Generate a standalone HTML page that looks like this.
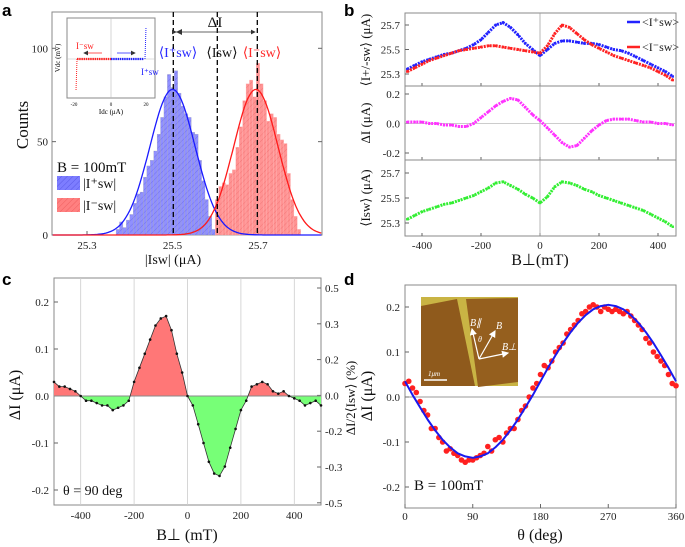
<!DOCTYPE html>
<html><head><meta charset="utf-8"><style>
html,body{margin:0;padding:0;background:#fff;}
svg{display:block;font-family:"Liberation Serif",serif;}
.pl{font-family:"Liberation Sans",sans-serif;font-weight:bold;font-size:17px;}
.tk{font-size:11px;fill:#222;}
.tt{font-size:16px;fill:#111;}
</style></head><body>
<svg id="fig" width="685" height="547" viewBox="0 0 685 547">
<defs>
<pattern id="hb" width="4" height="4" patternUnits="userSpaceOnUse" patternTransform="rotate(45)"><rect width="4" height="4" fill="#7d7dff"/><line x1="0" y1="0" x2="0" y2="4" stroke="#5a5ae8" stroke-width="1"/></pattern>
<pattern id="hr" width="4" height="4" patternUnits="userSpaceOnUse" patternTransform="rotate(45)"><rect width="4" height="4" fill="#ff8080"/><line x1="0" y1="0" x2="0" y2="4" stroke="#f06060" stroke-width="1"/></pattern>
<clipPath id="cpos"><rect x="53" y="270" width="270" height="126"/></clipPath>
<clipPath id="cneg"><rect x="53" y="396" width="270" height="120"/></clipPath>
<marker id="ah" markerWidth="6" markerHeight="6" refX="5" refY="3" orient="auto"><path d="M0,0L6,3L0,6z" fill="#333"/></marker>
<marker id="aw" markerWidth="6" markerHeight="6" refX="5" refY="3" orient="auto"><path d="M0,0L6,3L0,6z" fill="#fff"/></marker>
</defs>
<text class="pl" x="2" y="16">a</text>
<text class="pl" x="344" y="16">b</text>
<text class="pl" x="2" y="285">c</text>
<text class="pl" x="344" y="285">d</text>
<g id="ga"></g>
<g id="gb"></g>
<g id="gc"></g>
<g id="gd"></g>
</svg>
<script>
// ---------- data ----------
const blueBinStart = 25.368;
const redBinStart = 25.6;
const binWidth = [0.008];
const blueCounts = [3,7,4,8,11,17,22,23,31,37,40,45,54,63,74,86,79,88,76,69,65,63,55,54,40,29,19,10,3];
const redCounts = [19,26,28,27,33,35,47,58,72,81,83,74,92,81,72,61,65,63,54,51,49,33,19,10,3];
const fitMeans = [25.50, 25.695];
const fitPeaks = [78, 78];
const fitSigmas = [0.053, 0.052];
const histTicksX = [25.3, 25.5, 25.7];
const histTicksY = [0, 50, 100];

const bField = [-450,-425,-400,-375,-350,-325,-300,-275,-250,-225,-200,-175,-150,-125,-100,-75,-50,-25,0,25,50,75,100,125,150,175,200,225,250,275,300,325,350,375,400,425,450];
const iPlus = [25.34,25.37,25.40,25.42,25.44,25.46,25.47,25.49,25.51,25.54,25.58,25.64,25.70,25.72,25.68,25.62,25.55,25.50,25.45,25.50,25.55,25.57,25.57,25.56,25.55,25.55,25.54,25.52,25.50,25.49,25.47,25.44,25.41,25.38,25.35,25.32,25.28];
const iMinus = [25.32,25.35,25.38,25.41,25.43,25.45,25.47,25.49,25.50,25.51,25.52,25.53,25.53,25.52,25.51,25.50,25.49,25.48,25.47,25.53,25.63,25.70,25.68,25.63,25.58,25.54,25.51,25.48,25.45,25.43,25.41,25.39,25.37,25.35,25.32,25.29,25.25];
const deltaB = [0.01,0.01,0.01,0.0,0.0,-0.01,-0.01,-0.02,-0.02,0.0,0.04,0.08,0.12,0.15,0.17,0.16,0.11,0.06,0.02,-0.03,-0.08,-0.13,-0.16,-0.15,-0.10,-0.05,-0.01,0.02,0.03,0.03,0.03,0.02,0.01,0.01,0.0,0.0,-0.01];
const iAvg = [25.33,25.36,25.39,25.41,25.43,25.45,25.46,25.48,25.50,25.52,25.55,25.58,25.62,25.63,25.60,25.57,25.53,25.50,25.46,25.51,25.59,25.63,25.62,25.60,25.57,25.55,25.52,25.50,25.48,25.46,25.44,25.42,25.40,25.37,25.34,25.31,25.27];
const bTicks = [-400,-200,0,200,400];

const cField = [-500,-480,-460,-440,-420,-400,-380,-360,-340,-320,-300,-280,-260,-240,-220,-200,-180,-160,-140,-120,-100,-80,-60,-40,-20,0,20,40,60,80,100,120,140,160,180,200,220,240,260,280,300,320,340,360,380,400,420,440,460,480,500];
const cDelta = [0.03,0.02,0.02,0.015,0.01,0.0,-0.01,-0.01,-0.015,-0.02,-0.02,-0.03,-0.025,-0.02,-0.01,0.03,0.06,0.09,0.12,0.15,0.165,0.17,0.14,0.09,0.05,0.0,-0.02,-0.06,-0.10,-0.14,-0.165,-0.17,-0.15,-0.11,-0.07,-0.03,-0.01,0.02,0.025,0.03,0.025,0.01,0.005,0.01,0.0,-0.005,-0.01,-0.02,-0.015,-0.01,-0.02];
const cTicksY = [-0.2,-0.1,0.0,0.1,0.2];
const cRightLabels = ["0.5","0.3","0.2","0.0","-0.2","-0.3","-0.5"];

const theta = [0,5,10,15,20,25,30,35,40,45,50,55,60,65,70,75,80,85,90,95,100,105,110,115,120,125,130,135,140,145,150,155,160,165,170,175,180,185,190,195,200,205,210,215,220,225,230,235,240,245,250,255,260,265,270,275,280,285,290,295,300,305,310,315,320,325,330,335,340,345,350,355,360];
const dTheta = [0.03,0.035,0.02,0.01,-0.01,-0.03,-0.04,-0.07,-0.07,-0.09,-0.10,-0.12,-0.115,-0.125,-0.13,-0.14,-0.145,-0.14,-0.14,-0.135,-0.13,-0.125,-0.11,-0.12,-0.095,-0.09,-0.10,-0.08,-0.07,-0.07,-0.05,-0.03,-0.02,0.0,0.02,0.03,0.05,0.07,0.065,0.08,0.10,0.11,0.12,0.14,0.15,0.16,0.17,0.185,0.19,0.20,0.205,0.20,0.19,0.20,0.195,0.19,0.195,0.19,0.185,0.19,0.18,0.17,0.16,0.15,0.13,0.12,0.10,0.09,0.08,0.07,0.05,0.03,0.025];
const fitTheta = [0,10,20,30,40,50,60,70,80,90,100,110,120,130,140,150,160,170,180,190,200,210,220,230,240,250,260,270,280,290,300,310,320,330,340,350,360];
const fitDelta = [0.035,0.005,-0.023,-0.050,-0.074,-0.095,-0.112,-0.125,-0.132,-0.135,-0.132,-0.125,-0.112,-0.095,-0.074,-0.050,-0.023,0.005,0.035,0.065,0.093,0.120,0.144,0.165,0.182,0.195,0.202,0.205,0.202,0.195,0.182,0.165,0.144,0.120,0.093,0.065,0.035];
const thetaTicks = [0,90,180,270,360];
const dTicksY = [-0.2,-0.1,0.0,0.1,0.2];

// ---------- helpers ----------
const NS = "http://www.w3.org/2000/svg";
function mk(parent, tag, at, txt){const e=document.createElementNS(NS,tag);for(const k in at)e.setAttribute(k,at[k]);if(txt!==undefined)e.textContent=txt;parent.appendChild(e);return e;}
function lin(d0,d1,r0,r1){return v=>r0+(v-d0)*(r1-r0)/(d1-d0);}
function frame(g,x0,y0,x1,y1,name){const r=mk(g,'rect',{x:x0,y:y0,width:x1-x0,height:y1-y0,fill:'none',stroke:'#8a8a8a','stroke-width':1});

return r;}
function label(g,x,y,s,cls,anchor,name,extra){const t=mk(g,'text',Object.assign({x:x,y:y,class:cls,'text-anchor':anchor||'middle'},extra||{}),s);

return t;}

// ---------- panel a ----------
(function(){
const g=document.getElementById('ga');
const X=lin(25.3,25.7,87,258), Y=lin(0,100,235,48.3);
frame(g,52,12,322,235,'plot-area-a');
for(const v of histTicksY){const y=Y(v);
const tl=mk(g,'line',{x1:52,x2:56,y1:y,y2:y,stroke:'#666'});


mk(g,'line',{x1:318,x2:322,y1:y,y2:y,stroke:'#666'});
label(g,48,y+4,String(v),'tk','end','y-tick-label-a');}
for(const v of histTicksX){const x=X(v);
const tl=mk(g,'line',{x1:x,x2:x,y1:235,y2:231,stroke:'#666'});


label(g,x,249,v.toFixed(1),'tk','middle','x-tick-label-a');}
const bw=binWidth[0];
blueCounts.forEach((c,i)=>{const x0=X(blueBinStart+i*bw),x1=X(blueBinStart+(i+1)*bw);
const r=mk(g,'rect',{x:x0,y:Y(c),width:x1-x0,height:Y(0)-Y(c),fill:'url(#hb)','fill-opacity':0.85,stroke:'#aab','stroke-width':0.3});

});
redCounts.forEach((c,i)=>{const x0=X(redBinStart+i*bw),x1=X(redBinStart+(i+1)*bw);
const r=mk(g,'rect',{x:x0,y:Y(c),width:x1-x0,height:Y(0)-Y(c),fill:'url(#hr)','fill-opacity':0.85,stroke:'#fbb','stroke-width':0.3});

});
['#1a1aff','#ff1a1a'].forEach((col,k)=>{let d='';for(let u=25.22;u<=25.85;u+=0.004){const v=fitPeaks[k]*Math.exp(-Math.pow(u-fitMeans[k],2)/(2*fitSigmas[k]*fitSigmas[k]));d+=(d?'L':'M')+X(u).toFixed(1)+','+Y(v).toFixed(1);}
const p=mk(g,'path',{d:d,fill:'none',stroke:col,'stroke-width':1.3});

});
[[173.3,'#000'],[217.3,'#000'],[257.3,'#000']].forEach(([x,c])=>{const l=mk(g,'line',{x1:x,x2:x,y1:12,y2:235,stroke:c,'stroke-width':1.3,'stroke-dasharray':'5,3'});

});
const ar=mk(g,'line',{x1:176,x2:255,y1:32,y2:32,stroke:'#333','stroke-width':0.8,'marker-end':'url(#ah)','marker-start':'url(#ah)'});


mk(g,'path',{d:'M182,29L176,32L182,35z',fill:'#333'});
label(g,215,27,'ΔI','tt','middle','delta-i-label',{style:'font-size:15px'});
label(g,178,57,'⟨I⁺sw⟩','tt','middle','mean-i-plus-label',{fill:'#2a2aff',style:'font-size:14px;fill:#2a2aff'});
label(g,222,57,'⟨Isw⟩','tt','middle','mean-i-label',{style:'font-size:14px'});
label(g,262,57,'⟨I⁻sw⟩','tt','middle','mean-i-minus-label',{style:'font-size:14px;fill:#ff2a2a'});
label(g,57,172,'B = 100mT','tt','start','field-label-a',{style:'font-size:15px'});
const lb=mk(g,'rect',{x:57,y:176,width:23,height:14,fill:'url(#hb)'});


label(g,83,188,'|I⁺sw|','tt','start','legend-label-i-plus',{style:'font-size:14px'});
const lr=mk(g,'rect',{x:57,y:198,width:23,height:14,fill:'url(#hr)'});


label(g,83,210,'|I⁻sw|','tt','start','legend-label-i-minus',{style:'font-size:14px'});
label(g,28,125,'Counts','tt','middle','y-axis-title-a',{transform:'rotate(-90 28 125)',style:'font-size:17px'});
label(g,173,264,'|Isw| (μA)','tt','middle','x-axis-title-a',{style:'font-size:14px'});
// inset
const ig=mk(g,'g',{});


mk(ig,'rect',{x:67,y:18,width:88,height:80,fill:'#fff',stroke:'#888'});
mk(ig,'line',{x1:67,x2:155,y1:59,y2:59,stroke:'#bbb','stroke-width':0.6});
mk(ig,'line',{x1:111,x2:111,y1:18,y2:98,stroke:'#bbb','stroke-width':0.6});
mk(ig,'line',{x1:77,x2:111,y1:59,y2:59,stroke:'#f22','stroke-width':2.2,'stroke-dasharray':'1.5,0.7'});
mk(ig,'line',{x1:111,x2:144,y1:59,y2:59,stroke:'#22f','stroke-width':2.2,'stroke-dasharray':'1.5,0.7'});
mk(ig,'line',{x1:145,x2:146,y1:59,y2:27,stroke:'#22f','stroke-width':1,'stroke-dasharray':'1,1'});
mk(ig,'line',{x1:77,x2:76,y1:59,y2:91,stroke:'#f22','stroke-width':1,'stroke-dasharray':'1,1'});
mk(ig,'line',{x1:102,x2:84,y1:53,y2:53,stroke:'#f22','stroke-width':0.8,'marker-end':'url(#ah)'});
mk(ig,'line',{x1:117,x2:135,y1:53,y2:53,stroke:'#22f','stroke-width':0.8,'marker-end':'url(#ah)'});
mk(ig,'text',{x:76,y:49,style:'font-size:9px;fill:#f22'},'I⁻sw');
mk(ig,'text',{x:141,y:75,style:'font-size:9px;fill:#22f'},'I⁺sw');
mk(ig,'text',{x:74,y:106,style:'font-size:5px','text-anchor':'middle'},'-20');
mk(ig,'text',{x:111,y:106,style:'font-size:5px','text-anchor':'middle'},'0');
mk(ig,'text',{x:146,y:106,style:'font-size:5px','text-anchor':'middle'},'20');
mk(ig,'text',{x:111,y:114,style:'font-size:7px','text-anchor':'middle'},'Idc (μA)');
mk(ig,'text',{x:60,y:58,style:'font-size:7px','text-anchor':'middle',transform:'rotate(-90 60 58)'},'Vdc (mV)');
})();

// ---------- panel b ----------
(function(){
const g=document.getElementById('gb');
const X=lin(0,400,540,658);
const subs=[{y0:13,y1:86,Y:lin(25.3,25.7,74,25),ticks:[25.3,25.5,25.7],fmt:1},
{y0:86,y1:160,Y:lin(-0.2,0.2,153,94),ticks:[-0.2,0.0,0.2],fmt:1},
{y0:160,y1:236,Y:lin(25.3,25.7,223,173),ticks:[25.3,25.5,25.7],fmt:1}];
subs.forEach((s,k)=>{frame(g,405,s.y0,676,s.y1,'subplot-frame-b'+(k+1));
for(const v of s.ticks){const y=s.Y(v);
const t=mk(g,'line',{x1:405,x2:409,y1:y,y2:y,stroke:'#666'});


label(g,400,y+4,v.toFixed(1),'tk','end','y-tick-label-b');}
for(const v of bTicks){const x=X(v);mk(g,'line',{x1:x,x2:x,y1:s.y1,y2:s.y1-3,stroke:'#666'});}
mk(g,'line',{x1:X(0),x2:X(0),y1:s.y0,y2:s.y1,stroke:'#999','stroke-width':0.7});});
mk(g,'line',{x1:405,x2:676,y1:subs[1].Y(0),y2:subs[1].Y(0),stroke:'#bbb','stroke-width':0.8});
for(const v of bTicks){label(g,X(v),249,String(v),'tk','middle','x-tick-label-b');}
function series(vals,Y,col,name){let d='';bField.forEach((b,i)=>{d+=(i?'L':'M')+X(b).toFixed(1)+','+Y(vals[i]).toFixed(1);});
const p=mk(g,'path',{d:d,fill:'none',stroke:col,'stroke-width':3,'stroke-dasharray':'2,1'});


bField.forEach((b,i)=>{const c=mk(g,'rect',{x:X(b)-1.2,y:Y(vals[i])-1.2,width:2.4,height:2.4,fill:col});

});}
series(iPlus,subs[0].Y,'#2222ff','series-i-plus');
series(iMinus,subs[0].Y,'#ff2222','series-i-minus');
series(deltaB,subs[1].Y,'#ff33ff','series-delta-i');
series(iAvg,subs[2].Y,'#33ee33','series-i-avg');
mk(g,'line',{x1:627,x2:640,y1:22,y2:22,stroke:'#22f','stroke-width':2.5});
label(g,642,26,'<I⁺sw>','tk','start','legend-i-plus',{style:'font-size:12px'});
mk(g,'line',{x1:627,x2:640,y1:47,y2:47,stroke:'#f22','stroke-width':2.5});
label(g,642,51,'<I⁻sw>','tk','start','legend-i-minus',{style:'font-size:12px'});
label(g,370,50,'⟨I+/-sw⟩ (μA)','tt','middle','y-axis-title-b1',{transform:'rotate(-90 370 50)',style:'font-size:13px'});
label(g,370,123,'ΔI (μA)','tt','middle','y-axis-title-b2',{transform:'rotate(-90 370 123)',style:'font-size:13px'});
label(g,370,198,'⟨Isw⟩ (μA)','tt','middle','y-axis-title-b3',{transform:'rotate(-90 370 198)',style:'font-size:13px'});
label(g,540,265,'B⊥(mT)','tt','middle','x-axis-title-b',{style:'font-size:16px'});
})();

// ---------- panel c ----------
(function(){
const g=document.getElementById('gc');
const X=lin(-500,500,54,321), Y=lin(0,0.1,396,349);
frame(g,54,278,321,505,'plot-area-c');
for(const v of bTicks){const x=X(v);
const gl=mk(g,'line',{x1:x,x2:x,y1:278,y2:505,stroke:'#ccc','stroke-width':0.8});


label(g,x,519,String(v),'tk','middle','x-tick-label-c');}
for(const v of cTicksY){const y=Y(v);mk(g,'line',{x1:54,x2:58,y1:y,y2:y,stroke:'#666'});
label(g,49,y+4,v.toFixed(1),'tk','end','y-tick-label-c');}
cRightLabels.forEach((s,i)=>{const y=288+i*35.8;mk(g,'line',{x1:317,x2:321,y1:y,y2:y,stroke:'#666'});
label(g,325,y+4,s,'tk','start','right-tick-label-c');});
let d='M'+X(cField[0])+','+Y(0);cField.forEach((b,i)=>{d+='L'+X(b).toFixed(1)+','+Y(cDelta[i]).toFixed(1);});d+='L'+X(cField[cField.length-1])+','+Y(0)+'Z';
const ap=mk(g,'path',{d:d,fill:'#ff7777','clip-path':'url(#cpos)'});


const an=mk(g,'path',{d:d,fill:'#77ff77','clip-path':'url(#cneg)'});


mk(g,'line',{x1:54,x2:321,y1:Y(0),y2:Y(0),stroke:'#888','stroke-width':1});
let d2='';cField.forEach((b,i)=>{d2+=(i?'L':'M')+X(b).toFixed(1)+','+Y(cDelta[i]).toFixed(1);});
const ln=mk(g,'path',{d:d2,fill:'none',stroke:'#333','stroke-width':0.8});


cField.forEach((b,i)=>{const c=mk(g,'circle',{cx:X(b),cy:Y(cDelta[i]),r:1.3,fill:'#111'});

});
label(g,63,495,'θ = 90 deg','tt','start','theta-label-c',{style:'font-size:14px'});
label(g,20,395,'ΔI (μA)','tt','middle','y-axis-title-c',{transform:'rotate(-90 20 395)',style:'font-size:16px'});
label(g,187,540,'B⊥ (mT)','tt','middle','x-axis-title-c',{style:'font-size:16px'});
label(g,355,398,'ΔI/2⟨Isw⟩ (%)','tt','middle','right-axis-title-c',{transform:'rotate(-90 355 398)',style:'font-size:13px'});
})();

// ---------- panel d ----------
(function(){
const g=document.getElementById('gd');
const X=lin(0,360,405,676), Y=lin(0,0.2,397,307);
frame(g,405,285,676,508,'plot-area-d');
for(const v of thetaTicks){const x=X(v);mk(g,'line',{x1:x,x2:x,y1:508,y2:504,stroke:'#666'});
label(g,x,520,String(v),'tk','middle','x-tick-label-d');}
for(const v of dTicksY){const y=Y(v);mk(g,'line',{x1:405,x2:409,y1:y,y2:y,stroke:'#666'});
label(g,400,y+4,v.toFixed(1),'tk','end','y-tick-label-d');}
mk(g,'line',{x1:405,x2:676,y1:Y(0),y2:Y(0),stroke:'#777','stroke-width':0.8});
theta.forEach((t,i)=>{const c=mk(g,'circle',{cx:X(t),cy:Y(dTheta[i]),r:2.8,fill:'#ff2020'});

});
let d='';fitTheta.forEach((t,i)=>{d+=(i?'L':'M')+X(t).toFixed(1)+','+Y(fitDelta[i]).toFixed(1);});
const f=mk(g,'path',{d:d,fill:'none',stroke:'#1a1aee','stroke-width':2,'stroke-linejoin':'round'});


const ig=mk(g,'g',{});


mk(ig,'rect',{x:421,y:297,width:97,height:89,fill:'#c9b444'});
mk(ig,'polygon',{points:'421,306 457,299 475,386 421,386',fill:'#8f5a1c'});
mk(ig,'polygon',{points:'466,299 518,298 518,382 478,387',fill:'#955f1e'});
mk(ig,'line',{x1:424,x2:447,y1:380,y2:380,stroke:'#fff','stroke-width':1.5});
mk(ig,'text',{x:428,y:376,style:'font-size:7px;fill:#fff;font-style:italic'},'1μm');
mk(ig,'line',{x1:479,x2:472,y1:359,y2:329,stroke:'#fff','stroke-width':1.2,'marker-end':'url(#aw)'});
mk(ig,'line',{x1:479,x2:495,y1:359,y2:331,stroke:'#fff','stroke-width':1.2,'marker-end':'url(#aw)'});
mk(ig,'line',{x1:479,x2:508,y1:359,y2:353,stroke:'#fff','stroke-width':1.2,'marker-end':'url(#aw)'});
mk(ig,'text',{x:470,y:326,style:'font-size:10px;fill:#fff;font-style:italic'},'B∥');
mk(ig,'text',{x:496,y:329,style:'font-size:10px;fill:#fff;font-style:italic'},'B');
mk(ig,'text',{x:502,y:350,style:'font-size:10px;fill:#fff;font-style:italic'},'B⊥');
mk(ig,'text',{x:478,y:342,style:'font-size:8px;fill:#fff;font-style:italic'},'θ');
label(g,414,490,'B = 100mT','tt','start','field-label-d',{style:'font-size:15px'});
label(g,372,396,'ΔI (μA)','tt','middle','y-axis-title-d',{transform:'rotate(-90 372 396)',style:'font-size:16px'});
label(g,540,540,'θ (deg)','tt','middle','x-axis-title-d',{style:'font-size:16px'});
})();
</script>
</body></html>
